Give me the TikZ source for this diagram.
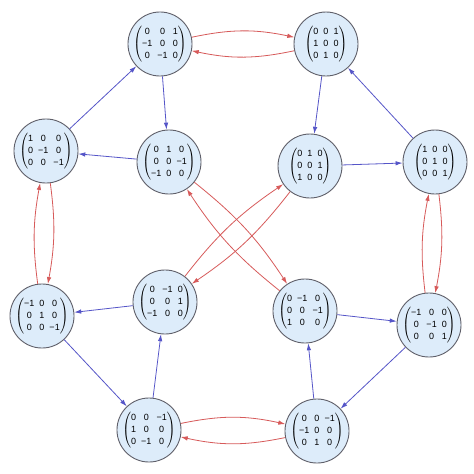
\documentclass[tikz,border=0pt]{standalone}
\usepackage{fontspec}
\setsansfont{Liberation Sans}
\usetikzlibrary{arrows.meta}
\definecolor{eblue}{RGB}{85,85,200}
\definecolor{ered}{RGB}{215,90,90}
\definecolor{nfill}{RGB}{221,236,250}
\definecolor{nline}{RGB}{95,95,105}
\newcommand{\mymat}[9]{$\left(\begin{tabular}{@{}c@{\hspace{5pt}}c@{\hspace{5pt}}c@{}}#1&#2&#3\\#4&#5&#6\\#7&#8&#9\end{tabular}\right)$}
\tikzset{
  mnode/.style={circle,draw=nline,line width=0.9pt,fill=nfill,minimum size=64pt,inner sep=0pt,
    font=\sffamily\fontsize{9}{12}\selectfont},
  bedge/.style={draw=eblue,line width=0.8pt,-{Latex[length=7pt,width=4.5pt]}},
  redge/.style={draw=ered,line width=0.8pt,-{Latex[length=7pt,width=4.5pt]},bend left=12},
  rsedge/.style={redge,bend left=9},
}
\begin{document}
\begin{tikzpicture}[x=1pt,y=-1pt]
\useasboundingbox[fill=white] (0,0) rectangle (474,474);
\node[mnode] (n1) at (160,44) {\mymat{0}{0}{1}{−1}{0}{0}{0}{−1}{0}};
\node[mnode] (n2) at (326,44) {\mymat{0}{0}{1}{1}{0}{0}{0}{1}{0}};
\node[mnode] (n3) at (46,151) {\mymat{1}{0}{0}{0}{−1}{0}{0}{0}{−1}};
\node[mnode] (n4) at (169,162) {\mymat{0}{1}{0}{0}{0}{−1}{−1}{0}{0}};
\node[mnode] (n5) at (310,166) {\mymat{0}{1}{0}{0}{0}{1}{1}{0}{0}};
\node[mnode] (n6) at (435,162) {\mymat{1}{0}{0}{0}{1}{0}{0}{0}{1}};
\node[mnode] (n7) at (42,316) {\mymat{−1}{0}{0}{0}{1}{0}{0}{0}{−1}};
\node[mnode] (n8) at (165,302) {\mymat{0}{−1}{0}{0}{0}{1}{−1}{0}{0}};
\node[mnode] (n9) at (305,311) {\mymat{0}{−1}{0}{0}{0}{−1}{1}{0}{0}};
\node[mnode] (n10) at (429,325) {\mymat{−1}{0}{0}{0}{−1}{0}{0}{0}{1}};
\node[mnode] (n11) at (149,430) {\mymat{0}{0}{−1}{1}{0}{0}{0}{−1}{0}};
\node[mnode] (n12) at (317,431) {\mymat{0}{0}{−1}{−1}{0}{0}{0}{1}{0}};
% blue
\draw[bedge] (n3) -- (n1);
\draw[bedge] (n1) -- (n4);
\draw[bedge] (n4) -- (n3);
\draw[bedge] (n6) -- (n2);
\draw[bedge] (n2) -- (n5);
\draw[bedge] (n5) -- (n6);
\draw[bedge] (n8) -- (n7);
\draw[bedge] (n7) -- (n11);
\draw[bedge] (n11) -- (n8);
\draw[bedge] (n9) -- (n10);
\draw[bedge] (n10) -- (n12);
\draw[bedge] (n12) -- (n9);
% red
\draw[redge] (n1) to (n2);
\draw[redge] (n2) to (n1);
\draw[rsedge] (n7) to (n3);
\draw[rsedge] (n3) to (n7);
\draw[rsedge] (n10) to (n6);
\draw[rsedge] (n6) to (n10);
\draw[redge] (n11) to (n12);
\draw[redge] (n12) to (n11);
\draw[rsedge] (n4) to (n9);
\draw[rsedge] (n9) to (n4);
\draw[rsedge] (n8) to (n5);
\draw[rsedge] (n5) to (n8);
\end{tikzpicture}
\end{document}
